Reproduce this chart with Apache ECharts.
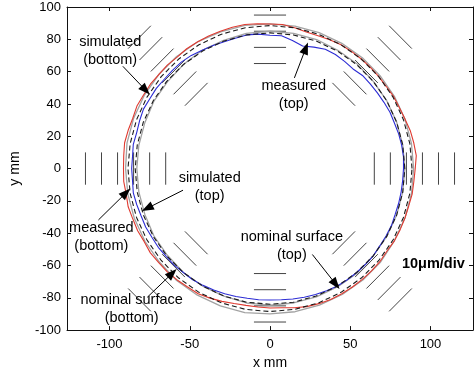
<!DOCTYPE html>
<html>
<head>
<meta charset="utf-8">
<script src="https://cdn.jsdelivr.net/npm/echarts@6/dist/echarts.min.js"></script>
<style>
  html, body { margin: 0; padding: 0; background: #fff; }
  #chart { width: 474px; height: 375px; }
</style>
</head>
<body>
<div id="chart"></div>
<script>
// polar angle (deg) of each sample point
const angles5 = [0, 5, 10, 15, 20, 25, 30, 35, 40, 45, 50, 55, 60, 65, 70, 75, 80, 85,
  90, 95, 100, 105, 110, 115, 120, 125, 130, 135, 140, 145, 150, 155, 160, 165, 170, 175,
  180, 185, 190, 195, 200, 205, 210, 215, 220, 225, 230, 235, 240, 245, 250, 255, 260, 265,
  270, 275, 280, 285, 290, 295, 300, 305, 310, 315, 320, 325, 330, 335, 340, 345, 350, 355];
const angles10 = [0, 10, 20, 30, 40, 50, 60, 70, 80, 90, 100, 110, 120, 130, 140, 150, 160, 170,
  180, 190, 200, 210, 220, 230, 240, 250, 260, 270, 280, 290, 300, 310, 320, 330, 340, 350];

// radius (mm)
const measuredBottom = [90.5, 91.5, 91, 90.5, 89.5, 89, 89, 88.5, 88.5, 88.5, 88.5, 88.5, 88.5, 88, 87.5, 87.5, 88.5, 89.5,
  89.5, 90, 90.5, 90.5, 90.5, 90.5, 90.5, 90.5, 90, 90.5, 90.5, 91, 91, 91.5, 91, 91.5, 92, 91.5,
  91.3, 91.5, 91, 91.5, 91, 91, 90.5, 91, 90.5, 90.5, 90, 89.5, 89.5, 88.5, 87.5, 86.5, 86, 86,
  86.3, 86.5, 87.5, 88.5, 89, 89.5, 89.5, 89.5, 89.5, 89.5, 89.5, 89, 89.5, 89.5, 89.5, 89.5, 90, 90];
const measuredTop = [83.2, 83.5, 83.3, 83, 82.5, 82.5, 82, 81.7, 81.5, 81.5, 80.5, 81, 81.5, 81.5, 80, 78.5, 80.5, 82.5,
  82.5, 83.5, 84, 83.5, 83.5, 84, 84.5, 85.5, 86, 86, 86, 86.5, 86.5, 87, 86.5, 86, 86.5, 86,
  86.2, 86, 86.5, 86, 85.5, 85.5, 85, 85, 84.5, 84.5, 84, 84, 83.5, 83, 82.5, 82, 81.5, 81.5,
  81.4, 81.5, 82, 82.5, 83, 83.5, 84, 84, 84, 84, 84, 83.5, 83.5, 83.5, 83, 83, 83, 83];
const simulatedBottom = [89.5, 89.5, 89.5, 89.5, 89.5, 89.5, 89.5, 89.5, 89.5, 89.5, 90, 90, 90.5, 90.5, 90.5, 90.5, 90.5, 90.5,
  90, 90, 90, 90, 90, 90.5, 90.5, 90.5, 90.5, 90, 90, 90, 90, 90, 90, 89.5, 89.5, 89.5];
const simulatedTop = [84, 84, 84, 84, 84, 84.5, 84.5, 85, 85, 85, 85, 84.5, 84.5, 84, 83.5, 83.5, 83, 83,
  83, 83, 83, 83.5, 83.5, 84, 84, 84, 84.5, 84.5, 84.5, 84.5, 84.5, 84.5, 84, 84, 84, 84];
const nominalBottom = [88.5, 88.5, 88.5, 88.5, 88.5, 88.5, 88.5, 88.5, 88.5, 88.5, 88.5, 88.5, 88.5, 88.5, 88.5, 88.5, 88.5, 88.5,
  88.5, 88.5, 88.5, 88.5, 88.5, 88.5, 88.5, 88.5, 88.5, 88.5, 88.5, 88.5, 88.5, 88.5, 88.5, 88.5, 88.5, 88.5];
const nominalTop = [84, 84, 84, 84, 84, 84, 84, 84, 84, 84, 84, 84, 84, 84, 84, 84, 84, 84,
  84, 84, 84, 84, 84, 84, 84, 84, 84, 84, 84, 84, 84, 84, 84, 84, 84, 84];

// scale divisions (10 um/div)
const divRadii = [65, 75, 85, 95, 105, 115];
const divAngles = [0, 45, 90, 135, 180, 225, 270, 315];
const divHalfLen = 10;

const xTicks = [-100, -50, 0, 50, 100];

function ring(angles, radii) {
  const pts = angles.map((a, i) => {
    const t = a * Math.PI / 180;
    return [radii[i] * Math.cos(t), radii[i] * Math.sin(t)];
  });
  pts.push(pts[0]);
  return pts;
}

function divisions() {
  const out = [];
  divAngles.forEach(a => {
    const t = a * Math.PI / 180;
    const c = Math.cos(t), s = Math.sin(t);
    divRadii.forEach(r => {
      out.push([r * c + divHalfLen * s, r * s - divHalfLen * c]);
      out.push([r * c - divHalfLen * s, r * s + divHalfLen * c]);
      out.push(['-', '-']);
    });
  });
  return out;
}

const font = 'Liberation Sans, Arial, sans-serif';
const frameColor = '#111';

function curve(name, data, color, width, type) {
  return {
    name: name,
    type: 'line',
    data: data,
    showSymbol: false,
    symbol: 'none',
    lineStyle: { color: color, width: width, type: type || 'solid' },
    silent: true,
    z: 3
  };
}

const chart = echarts.init(document.getElementById('chart'));

const frameAxis = {
  axisLine: { show: true, onZero: false, lineStyle: { color: frameColor, width: 1 } },
  axisTick: { show: true, inside: true, length: 4, lineStyle: { color: frameColor } },
  splitLine: { show: false }
};

chart.setOption({
  animation: false,
  backgroundColor: '#fff',
  grid: { left: 58, right: 1, top: 7, bottom: 42 },
  xAxis: [
    Object.assign({}, frameAxis, {
      type: 'value', min: -126.5, max: 126.5, position: 'bottom',
      axisTick: Object.assign({}, frameAxis.axisTick, { customValues: xTicks }),
      axisLabel: { customValues: xTicks, color: '#000', fontSize: 13, fontFamily: font, margin: 8 },
      name: 'x mm', nameLocation: 'middle', nameGap: 24,
      nameTextStyle: { color: '#000', fontSize: 14, fontFamily: font }
    }),
    Object.assign({}, frameAxis, {
      type: 'value', min: -126.5, max: 126.5, position: 'top',
      axisTick: Object.assign({}, frameAxis.axisTick, { customValues: xTicks }),
      axisLabel: { show: false }
    })
  ],
  yAxis: [
    Object.assign({}, frameAxis, {
      type: 'value', min: -100, max: 100, interval: 20, position: 'left',
      axisLabel: { color: '#000', fontSize: 13, fontFamily: font, margin: 6 },
      name: 'y mm', nameLocation: 'middle', nameGap: 45,
      nameTextStyle: { color: '#000', fontSize: 14, fontFamily: font }
    }),
    Object.assign({}, frameAxis, {
      type: 'value', min: -100, max: 100, interval: 20, position: 'right',
      axisLabel: { show: false }
    })
  ],
  series: [
    {
      name: 'divisions', type: 'line', data: divisions(), showSymbol: false, symbol: 'none',
      connectNulls: false, lineStyle: { color: '#444', width: 1 }, silent: true, z: 2
    },
    curve('simulated (bottom)', ring(angles10, simulatedBottom), '#a3a3a3', 1.3),
    curve('simulated (top)', ring(angles10, simulatedTop), '#a3a3a3', 1.3),
    curve('measured (bottom)', ring(angles5, measuredBottom), '#e03a30', 1.1),
    curve('measured (top)', ring(angles5, measuredTop), '#2c2cd4', 1.1),
    curve('nominal surface (bottom)', ring(angles10, nominalBottom), '#1a1a1a', 1.1, [5, 3]),
    curve('nominal surface (top)', ring(angles10, nominalTop), '#1a1a1a', 1.1, [5, 3]),
    {
      name: 'annotations', type: 'scatter', symbolSize: 0, silent: true, z: 5,
      itemStyle: { opacity: 1 },
      label: {
        show: true, position: 'inside', align: 'center', verticalAlign: 'middle',
        color: '#000', opacity: 1, fontSize: 14.5, lineHeight: 18, fontFamily: font
      },
      data: [
        { value: [-99.6, 72.9], label: { formatter: 'simulated\n(bottom)' } },
        { value: [14.8, 45.3], label: { formatter: 'measured\n(top)' } },
        { value: [-37.6, -11.7], label: { formatter: 'simulated\n(top)' } },
        { value: [-105.1, -42.4], label: { formatter: 'measured\n(bottom)' } },
        { value: [-86.2, -86.9], label: { formatter: 'nominal surface\n(bottom)' } },
        { value: [13.6, -47.9], label: { formatter: 'nominal surface\n(top)' } },
        { value: [101.8, -59.3], label: { formatter: '10\u03bcm/div', fontWeight: 'bold', fontSize: 14.5 } }
      ],
      markLine: {
        silent: true, animation: false,
        symbol: ['none', 'triangle'], symbolSize: [9, 12],
        label: { show: false },
        lineStyle: { color: '#000', width: 1, type: 'solid', opacity: 1 },
        itemStyle: { color: '#000' },
        emphasis: { disabled: true },
        data: [
          [{ coord: [-91.7, 63.3] }, { coord: [-77.5, 48.5] }],
          [{ coord: [15.2, 56.1] }, { coord: [22.3, 74.5] }],
          [{ coord: [-54.2, -13.4] }, { coord: [-76.5, -24.6] }],
          [{ coord: [-106.9, -31.8] }, { coord: [-89.7, -15] }],
          [{ coord: [-76.5, -79.7] }, { coord: [-60.9, -64.8] }],
          [{ coord: [26.4, -53.2] }, { coord: [41, -71.6] }]
        ]
      }
    }
  ]
});
</script>
</body>
</html>
